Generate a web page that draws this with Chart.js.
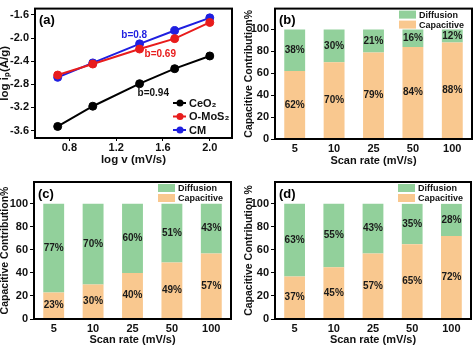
<!DOCTYPE html>
<html>
<head>
<meta charset="utf-8">
<script src="https://cdn.jsdelivr.net/npm/chart.js@4"></script>
<style>
  html, body { margin: 0; padding: 0; background: #fff; }
  body { width: 474px; height: 345px; position: relative; overflow: hidden; }
  canvas { position: absolute; }
</style>
</head>
<body>
<canvas id="pa" width="237" height="172" style="left:0;top:0"></canvas>
<canvas id="pb" width="237" height="172" style="left:237px;top:0"></canvas>
<canvas id="pc" width="237" height="173" style="left:0;top:172px"></canvas>
<canvas id="pd" width="237" height="173" style="left:237px;top:172px"></canvas>
<script>
// (a) log ip vs log v
const logRate = [0.7, 1.0, 1.4, 1.7, 2.0];
const ipCeO2 = [-3.53, -3.18, -2.79, -2.53, -2.31];
const ipOMoS2 = [-2.64, -2.45, -2.19, -2.01, -1.73];
const ipCM = [-2.68, -2.43, -2.10, -1.87, -1.65];

// (b)(c)(d) capacitive / diffusion split
const scanRates = ['5', '10', '25', '50', '100'];
const capB = [62, 70, 79, 84, 88];
const difB = [38, 30, 21, 16, 12];
const capC = [23, 30, 40, 49, 57];
const difC = [77, 70, 60, 51, 43];
const capD = [37, 45, 57, 65, 72];
const difD = [63, 55, 43, 35, 28];

const GREEN = '#92d09b';
const ORANGE = '#f9c88f';
const FONT = "'Liberation Sans', Arial, sans-serif";

Chart.defaults.font.family = FONT;
Chart.defaults.font.weight = 'bold';
Chart.defaults.color = '#111';
Chart.defaults.animation = false;

// box round the plot + the (a)/(b) tag
const framePlugin = {
  id: 'frame',
  afterDraw(chart, args, opts) {
    const a = chart.chartArea, c = chart.ctx;
    c.save();
    c.strokeStyle = '#000';
    c.lineWidth = 2;
    c.strokeRect(a.left, a.top, a.right - a.left, a.bottom - a.top);
    c.font = 'bold 13px ' + FONT;
    c.fillStyle = '#000';
    c.textBaseline = 'middle';
    c.fillText(opts.tag, a.left + 4, a.top + 12);
    c.restore();
  }
};

// percent labels inside the stacked bars + legend boxes top right
const barTextPlugin = {
  id: 'barText',
  afterDatasetsDraw(chart) {
    const c = chart.ctx;
    c.save();
    c.font = 'bold 10px ' + FONT;
    c.fillStyle = '#1a1a1a';
    c.textAlign = 'center';
    c.textBaseline = 'middle';
    chart.data.datasets.forEach((ds, i) => {
      chart.getDatasetMeta(i).data.forEach((bar, j) => {
        c.fillText(ds.data[j] + '%', bar.x, (bar.y + bar.base) / 2);
      });
    });
    // legend: Diffusion on top
    const a = chart.chartArea;
    const order = chart.data.datasets.slice().reverse();
    order.forEach((ds, k) => {
      const y = a.top + 2 + k * 10;
      c.fillStyle = ds.backgroundColor;
      c.fillRect(a.right - 73, y, 17, 8);
      c.fillStyle = '#111';
      c.textAlign = 'left';
      c.font = 'bold 9px ' + FONT;
      c.fillText(ds.label, a.right - 53, y + 4.5);
    });
    c.restore();
  }
};

// legend and b-values for (a)
const lineTextPlugin = {
  id: 'lineText',
  afterDraw(chart) {
    const c = chart.ctx, a = chart.chartArea;
    const xs = chart.scales.x, ys = chart.scales.y;
    c.save();
    c.font = 'bold 10px ' + FONT;
    c.textAlign = 'center';
    c.textBaseline = 'middle';
    const notes = [
      ['b=0.8', 1.354, -1.945, '#1f1fe0'],
      ['b=0.69', 1.577, -2.286, '#e81c1c'],
      ['b=0.94', 1.517, -2.95, '#111']
    ];
    notes.forEach(n => {
      c.fillStyle = n[3];
      c.fillText(n[0], xs.getPixelForValue(n[1]), ys.getPixelForValue(n[2]));
    });
    c.textAlign = 'left';
    c.font = 'bold 11px ' + FONT;
    chart.data.datasets.forEach((ds, k) => {
      const y = a.bottom - 35 + k * 13.5;
      c.strokeStyle = ds.borderColor;
      c.lineWidth = 2;
      c.beginPath();
      c.moveTo(a.right - 59, y);
      c.lineTo(a.right - 46, y);
      c.stroke();
      c.fillStyle = ds.borderColor;
      c.beginPath();
      c.arc(a.right - 52, y, 3.5, 0, Math.PI * 2);
      c.fill();
      c.fillStyle = '#111';
      c.fillText(ds.label, a.right - 43, y + 0.5);
    });
    c.restore();
  }
};

function lineSet(label, data, color) {
  return {
    label: label,
    data: logRate.map((x, i) => ({ x: x, y: data[i] })),
    borderColor: color,
    backgroundColor: color,
    borderWidth: 2,
    pointRadius: 4,
    pointBorderWidth: 1,
    pointBorderColor: color,
    pointBackgroundColor: color,
    tension: 0
  };
}

new Chart(document.getElementById('pa'), {
  type: 'line',
  data: {
    datasets: [
      lineSet('CeO₂', ipCeO2, '#000000'),
      lineSet('O-MoS₂', ipOMoS2, '#e81c1c'),
      lineSet('CM', ipCM, '#1f1fe0')
    ]
  },
  options: {
    responsive: false,
    layout: { padding: { left: 0, top: 1, right: 5, bottom: 0 } },
    plugins: { legend: { display: false }, tooltip: { enabled: false }, frame: { tag: '(a)' } },
    scales: {
      x: {
        type: 'linear', min: 0.506, max: 2.19,
        afterFit: s => { s.height = 34; },
        grid: { display: true, drawOnChartArea: false, tickLength: 3, color: '#000' },
        border: { display: false },
        ticks: { stepSize: 0.4, includeBounds: false, padding: 0, font: { size: 11 }, callback: v => v.toFixed(1) },
        title: { display: true, text: 'log v (mV/s)', font: { size: 11.5, lineHeight: 1 }, padding: { top: 0, bottom: 6 } }
      },
      y: {
        min: -3.73, max: -1.49,
        afterFit: s => { s.width = 35; },
        grid: { display: true, drawOnChartArea: false, tickLength: 4, color: '#000' },
        border: { display: false },
        ticks: { stepSize: 0.4, includeBounds: false, padding: 2, font: { size: 11 }, callback: v => v.toFixed(1) },
        title: { display: true, text: 'log iₚ(A/g)', font: { size: 11.5, lineHeight: 1 }, padding: { top: -1, bottom: 0 } }
      }
    }
  },
  plugins: [framePlugin, lineTextPlugin]
});

function barChart(id, cap, dif, tag, yTitle, geo) {
  return new Chart(document.getElementById(id), {
    type: 'bar',
    data: {
      labels: scanRates,
      datasets: [
        { label: 'Capacitive', data: cap, backgroundColor: ORANGE },
        { label: 'Diffusion', data: dif, backgroundColor: GREEN }
      ]
    },
    options: {
      responsive: false,
      layout: { padding: { left: 0, top: geo.top, right: geo.right, bottom: 0 } },
      plugins: { legend: { display: false }, tooltip: { enabled: false }, frame: { tag: tag } },
      datasets: { bar: { categoryPercentage: 1, barPercentage: 0.53 } },
      scales: {
        x: {
          stacked: true,
          afterFit: s => { s.height = geo.xh; },
          grid: { display: false, drawTicks: false },
          border: { display: false },
          ticks: { padding: 3, font: { size: 11 } },
          title: { display: true, text: 'Scan rate (mV/s)', font: { size: 11, lineHeight: 1 }, padding: { top: 0, bottom: geo.titleB } }
        },
        y: {
          stacked: true, min: 0, max: 119,
          afterFit: s => { s.width = geo.yw; },
          grid: { display: true, drawOnChartArea: false, tickLength: 4, color: '#000' },
          border: { display: false },
          ticks: { stepSize: 20, includeBounds: false, padding: 2, font: { size: 11 } },
          title: { display: true, text: yTitle, font: { size: 10.5, lineHeight: 1 }, padding: { top: geo.titleL, bottom: 0 } }
        }
      }
    },
    plugins: [framePlugin, barTextPlugin]
  });
}

barChart('pb', capB, difB, '(b)', 'Capacitive Contribution%', { top: 1, right: 2, xh: 33, yw: 38, titleB: 6, titleL: 7 });
barChart('pc', capC, difC, '(c)', 'Capacitive Contribution%', { top: 10, right: 6, xh: 26, yw: 34, titleB: 0, titleL: 0 });
barChart('pd', capD, difD, '(d)', 'Capacitive Contribution %', { top: 10, right: 3, xh: 26, yw: 38, titleB: 0, titleL: 7 });
</script>
</body>
</html>
